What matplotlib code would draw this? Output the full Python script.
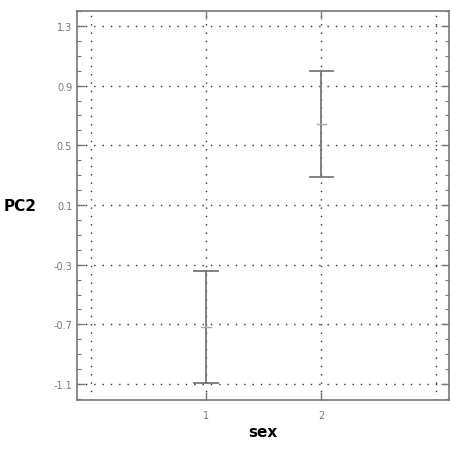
import matplotlib.pyplot as plt
from matplotlib.ticker import MultipleLocator, FixedLocator

# group means and interval limits
groups = [1, 2]
means = [-0.72, 0.64]
upper = [-0.34, 1.00]
lower = [-1.09, 0.29]

yticks = [-1.1, -0.7, -0.3, 0.1, 0.5, 0.9, 1.3]

fig = plt.figure(figsize=(4.74, 4.64), dpi=100)
ax = fig.add_axes([77 / 474, 1 - 401 / 464, 372 / 474, 389 / 464])

for g, m, lo, hi in zip(groups, means, lower, upper):
    ax.plot([g, g], [lo, hi], color='#777777', linewidth=1.3, zorder=3)
    ax.plot([g - 0.1, g + 0.1], [hi, hi], color='#777777', linewidth=1.3, zorder=3)
    ax.plot([g - 0.1, g + 0.1], [lo, lo], color='#777777', linewidth=1.3, zorder=3)
    ax.plot([g - 0.04, g + 0.04], [m, m], color='#aaaaaa', linewidth=1.0, zorder=3)

ax.set_xlim(-0.12, 3.11)
ax.set_ylim(-1.207, 1.40)

ax.xaxis.set_major_locator(FixedLocator(groups))
ax.set_yticks(yticks)
ax.set_yticklabels([f"{v:.1f}" for v in yticks])
ax.yaxis.set_minor_locator(MultipleLocator(0.1))

# grid: horizontal at labelled ticks, vertical at 0..3
for v in yticks:
    ax.axhline(v, color='#333333', linestyle=(0, (1, 5)), linewidth=1.0, zorder=1)
for v in [0, 1, 2, 3]:
    ax.axvline(v, color='#333333', linestyle=(0, (1, 5)), linewidth=1.0, zorder=1)

ax.tick_params(axis='both', which='both', direction='in', top=True, right=True,
               colors='#777777', labelcolor='#777777', labelsize=7)
ax.tick_params(axis='both', which='major', length=6, width=1)
ax.tick_params(axis='y', which='minor', length=3, width=0.8)
ax.tick_params(axis='x', which='major', pad=7)
for s in ax.spines.values():
    s.set_color('#777777')
    s.set_linewidth(1.2)

ax.set_xlabel("sex", fontsize=11, fontweight='bold', labelpad=3)
ax.set_ylabel("PC2", fontsize=11, fontweight='bold', rotation=0, labelpad=24, va='center')

fig.savefig("out.png", dpi=100)
